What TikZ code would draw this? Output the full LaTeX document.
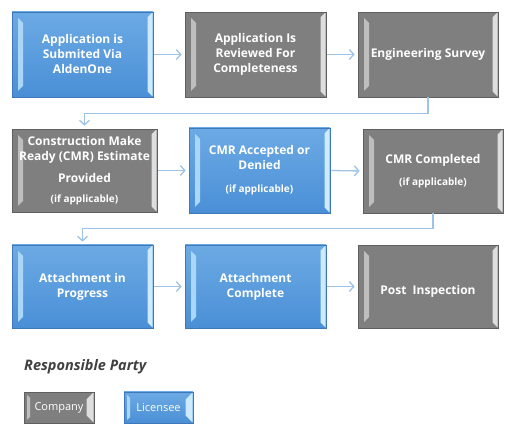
\documentclass[tikz,border=0pt]{standalone}
\usepackage{fontspec}
\setmainfont{Open Sans}
\usetikzlibrary{arrows.meta}
\definecolor{bluetop}{RGB}{108,170,228}
\definecolor{bluebot}{RGB}{74,143,214}
\definecolor{blueedge}{RGB}{62,120,185}
\definecolor{bluel}{RGB}{170,215,248}
\definecolor{bluer}{RGB}{205,235,253}
\definecolor{greyfill}{RGB}{127,127,127}
\definecolor{greyedge}{RGB}{95,95,95}
\definecolor{greyl}{RGB}{190,190,190}
\definecolor{greyr}{RGB}{222,222,222}
\definecolor{connc}{RGB}{157,195,230}
\definecolor{titlec}{RGB}{64,64,64}
\tikzset{
  bevel/.style n args={5}{path picture={
    \coordinate (pnw) at (path picture bounding box.north west);
    \coordinate (pne) at (path picture bounding box.north east);
    \coordinate (psw) at (path picture bounding box.south west);
    \coordinate (pse) at (path picture bounding box.south east);
    \fill[#1] ([shift={(#3,#3)}]pnw) -- ([shift={(#3+#4,#3+#4)}]pnw) -- ([shift={(#3+#4,-#3-#4)}]psw) -- ([shift={(#3,-#3)}]psw) -- cycle;
    \fill[#2] ([shift={(-0.5,0.5)}]pne) -- ([shift={(-0.5-#5,0.5+#5)}]pne) -- ([shift={(-0.5-#5,-0.5-#5)}]pse) -- ([shift={(-0.5,-0.5)}]pse) -- cycle;
  }},
  boxbase/.style={line width=0.7pt, inner sep=0pt, text=white, align=center,
    font=\bfseries\fontsize{12}{15}\selectfont},
  bluebox/.style={boxbase, draw=blueedge, top color=bluetop, bottom color=bluebot,
    bevel={bluel}{bluer}{6}{5}{5}},
  greybox/.style={boxbase, draw=greyedge, fill=greyfill,
    bevel={greyl}{greyr}{6}{5}{5}},
  bluekey/.style={line width=0.6pt, inner sep=0pt, text=white, draw=blueedge,
    top color=bluetop, bottom color=bluebot, bevel={bluel}{bluer}{3}{3}{7},
    font=\fontsize{11}{13}\selectfont},
  greykey/.style={line width=0.6pt, inner sep=0pt, text=white, draw=greyedge,
    fill=greyfill, bevel={greyl}{greyr}{3}{3}{7},
    font=\fontsize{11}{13}\selectfont},
  conn/.style={draw=connc, line width=1.3pt,
    -{Straight Barb[length=4.5pt,width=10pt]}, shorten >=3pt},
}
\newcommand{\ifap}{{\fontsize{10}{12}\selectfont (if applicable)}}
\begin{document}
\begin{tikzpicture}[x=1pt,y=-1pt]
\useasboundingbox (0,0) rectangle (509,435);
% row 1
\node[bluebox, minimum width=141, minimum height=85] (b1) at (82.5,54.5)
  {Application is\\Submited Via\\AldenOne};
\node[greybox, minimum width=141, minimum height=85] (b2) at (255.5,54.5)
  {Application Is\\Reviewed For\\Completeness};
\node[greybox, minimum width=140, minimum height=85] (b3) at (428,54.5)
  {Engineering Survey};
% row 2
\node[greybox, minimum width=145, minimum height=83] (b4) at (84.5,170.5)
  {Construction Make\\Ready (CMR) Estimate\\[7pt]Provided\\[5pt]\ifap};
\node[bluebox, minimum width=141, minimum height=85] (b5) at (259.5,170.5)
  {CMR Accepted or\\Denied\\[8pt]\ifap};
\node[greybox, minimum width=140, minimum height=84] (b6) at (433,171)
  {CMR Completed\\[7pt]\ifap};
% row 3
\node[bluebox, minimum width=141, minimum height=83] (b7) at (82.5,286.5)
  {Attachment in\\Progress};
\node[bluebox, minimum width=141, minimum height=83] (b8) at (255.5,286.5)
  {Attachment\\Complete};
\node[greybox, minimum width=140, minimum height=83] (b9) at (428,286.5)
  {\raisebox{-8pt}[0pt][0pt]{Post\ \ Inspection}};
% connectors
\draw[conn, shorten <=1pt] (b1.east) -- (b2.west);
\draw[conn, shorten <=1pt] (b2.east) -- (b3.west);
\draw[conn] (b3.south) -- ++(0,16) -| (b4.north);
\draw[conn, shorten <=1pt] (b4.east) -- (b5.west);
\draw[conn, shorten <=1pt] (b5.east) -- (b6.west);
\draw[conn] (b6.south) -- ++(0,15) -| (b7.north);
\draw[conn, shorten <=1pt] (b7.east) -- (b8.west);
\draw[conn, shorten <=1pt] (b8.east) -- (b9.west);
% legend
\node[anchor=west, inner sep=0pt, text=titlec,
  font=\bfseries\itshape\fontsize{14.5}{17}\selectfont] (lt) at (24,367) {Responsible Party};
\node[greykey, minimum width=70, minimum height=31] (kc) at (59,407.5) {Company};
\node[bluekey, minimum width=69, minimum height=31] (kl) at (158.5,407.5) {Licensee};
\end{tikzpicture}
\end{document}
